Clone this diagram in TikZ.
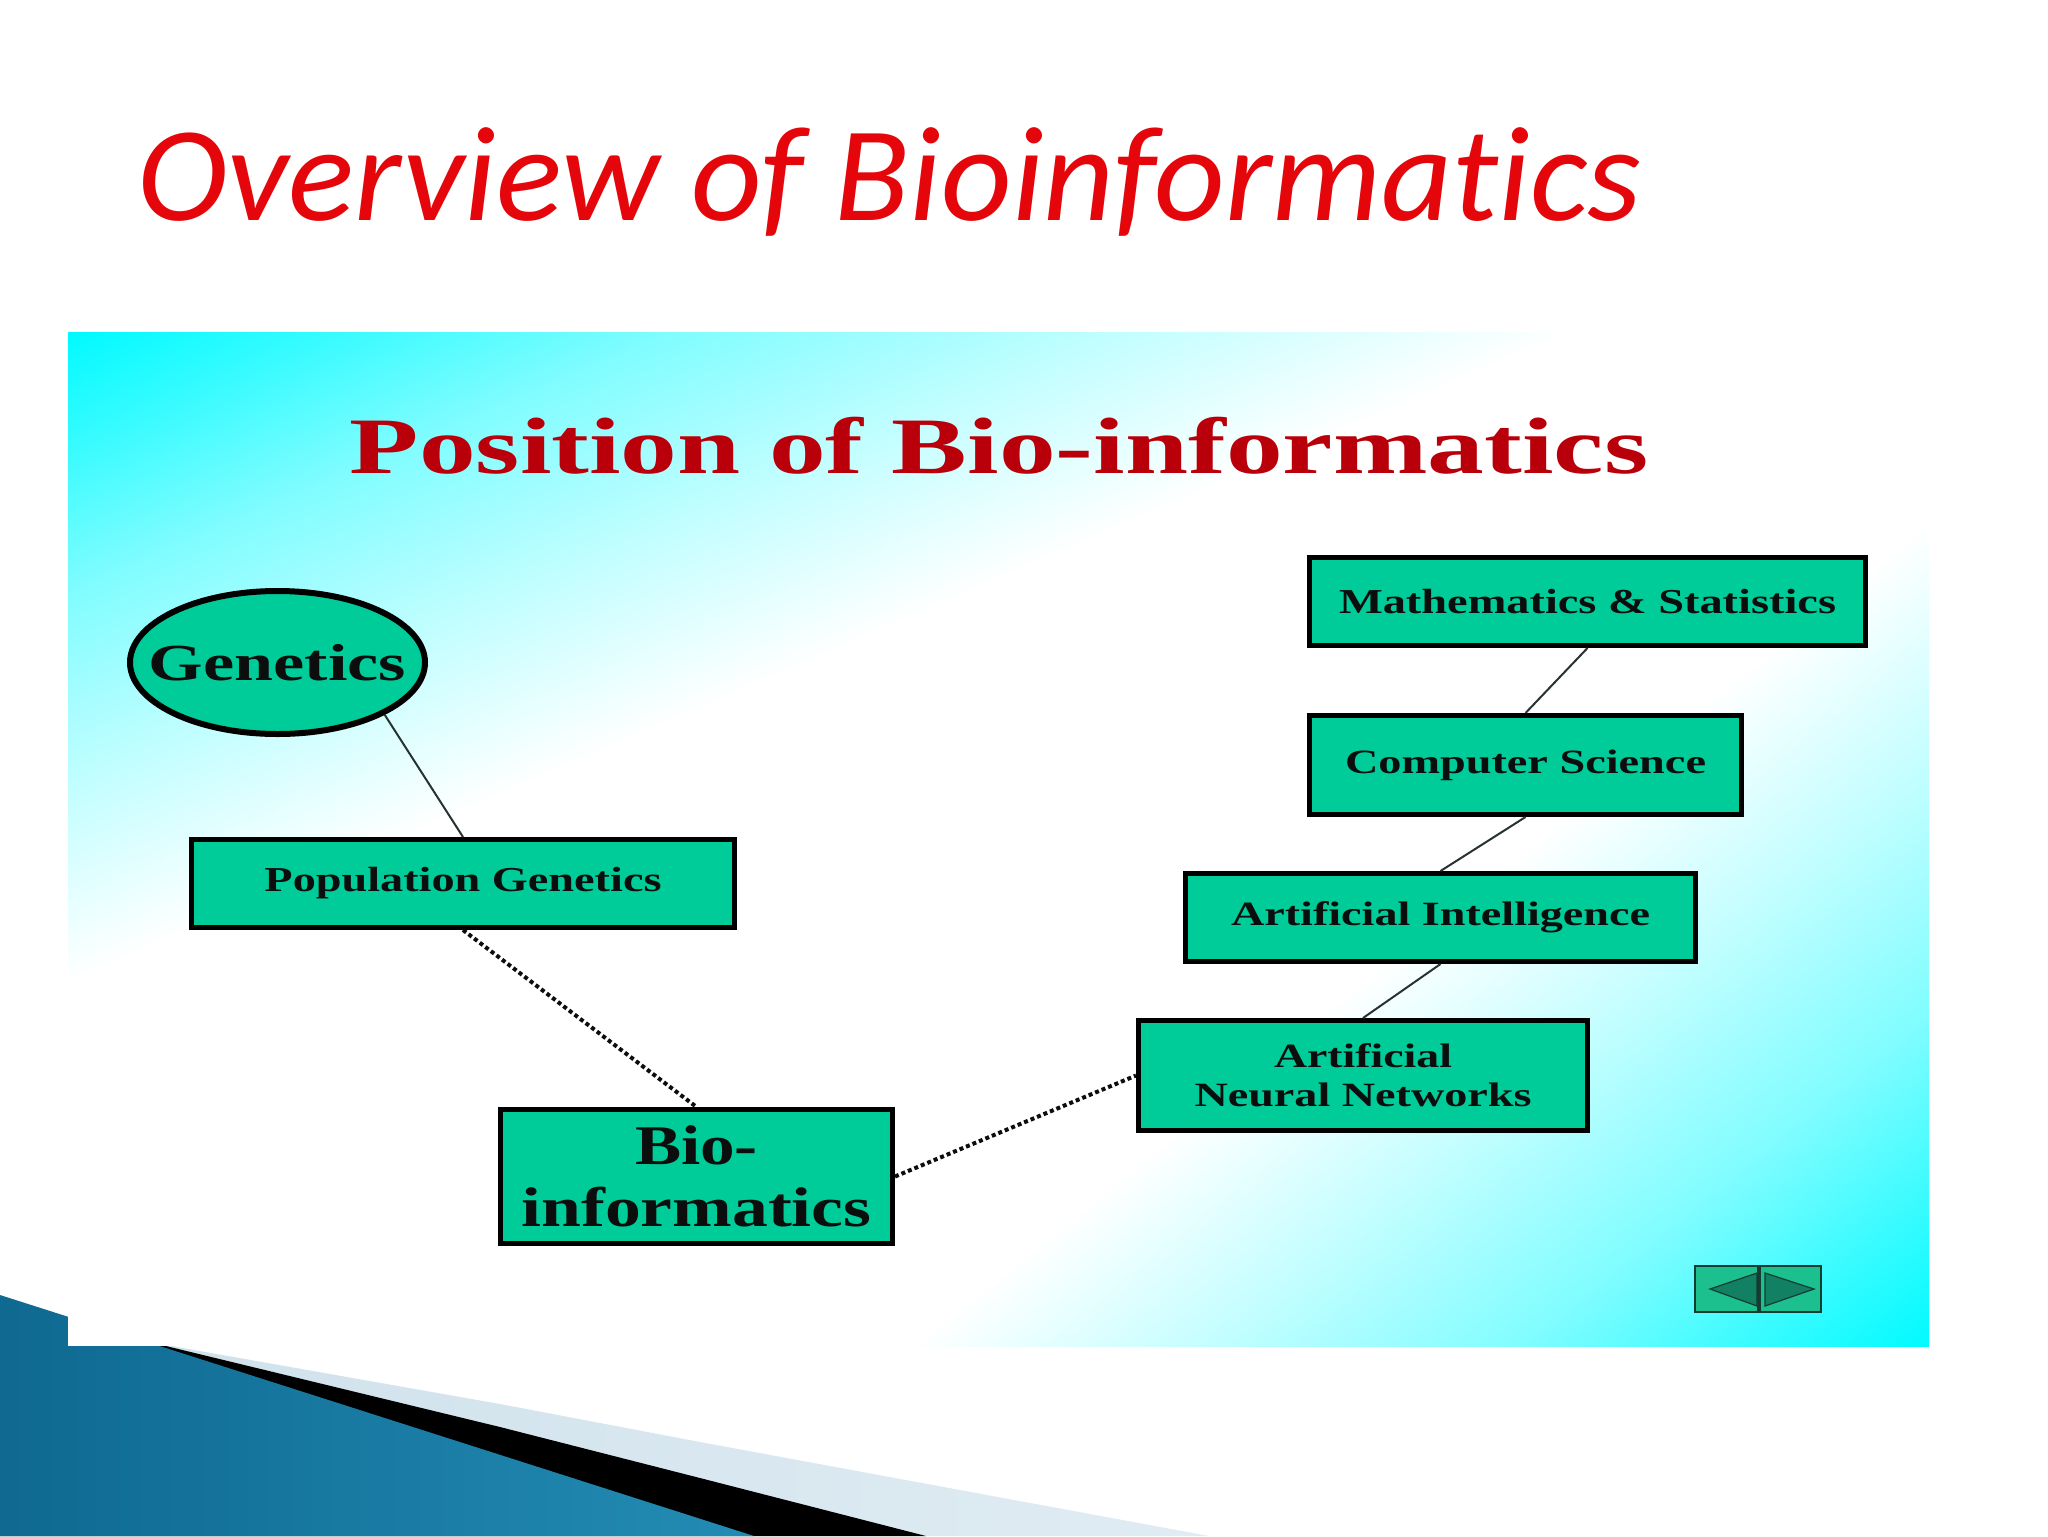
\documentclass[tikz,border=0pt]{standalone}
\usepackage{fontspec}
\usepackage{graphicx}
\setmainfont{Liberation Serif}
\newfontfamily\titlefont[Ligatures=NoCommon]{Carlito}
\usetikzlibrary{shapes.geometric}
\definecolor{tealbox}{RGB}{0,204,153}
\definecolor{txtdark}{RGB}{12,14,14}
\definecolor{cyanA}{RGB}{0,250,255}
\colorlet{cyanL}{cyanA!24!white}
\colorlet{cyanH}{cyanA!50!white}
\colorlet{cyanS}{cyanA!78!white}
\definecolor{titlered}{RGB}{228,6,10}
\definecolor{subred}{RGB}{185,0,10}
\definecolor{linkcol}{RGB}{40,50,50}
\definecolor{navfill}{RGB}{28,192,142}
\definecolor{navtri}{RGB}{18,128,98}
\definecolor{navline}{RGB}{20,60,50}
\definecolor{blueA}{RGB}{15,105,145}
\definecolor{blueB}{RGB}{78,176,212}
\definecolor{blueC}{RGB}{35,140,180}
\definecolor{lightA}{RGB}{205,224,235}
\definecolor{lightB}{RGB}{224,236,243}
\newcommand\fw[2]{\resizebox{#1}{\height}{#2}}
% bottom (25bp) = boundary line, top (75bp) = corner
\pgfdeclareverticalshading{ulshade}{100bp}{color(0bp)=(white); color(25bp)=(white); color(40bp)=(cyanL); color(55bp)=(cyanH); color(66bp)=(cyanS); color(75bp)=(cyanA); color(100bp)=(cyanA)}
% top (75bp) = boundary line, bottom (25bp) = corner
\pgfdeclareverticalshading{lrshade}{100bp}{color(0bp)=(cyanA); color(25bp)=(cyanA); color(34bp)=(cyanS); color(45bp)=(cyanH); color(60bp)=(cyanL); color(75bp)=(white); color(100bp)=(white)}
\begin{document}
\begin{tikzpicture}[x=0.5pt,y=-0.5pt,
  box/.style={draw=black, line width=2.5pt, fill=tealbox, inner sep=0pt, text=txtdark,
    font=\bfseries\fontsize{17.5}{21}\selectfont},
  genbox/.style={ellipse, draw=black, line width=3pt, fill=tealbox, inner sep=0pt, text=txtdark,
    font=\bfseries\fontsize{26}{30}\selectfont},
  solidlink/.style={draw=linkcol, line width=1pt},
  dotlink/.style={draw=txtdark, line width=2pt, dash pattern=on 2pt off 1.5pt}]
\useasboundingbox (0,0) rectangle (2048,1536);
\fill[white] (0,0) rectangle (2048,1536);
% bottom swoosh
\shade[left color=lightA, right color=lightB] (68,1320) -- (177,1347) -- (500,1404) -- (700,1442) -- (1209,1536) -- (0,1536) -- cycle;
\fill[black] (68,1320) -- (170,1347) -- (500,1427) -- (700,1478) -- (926,1536) -- (0,1536) -- cycle;
\shade[left color=blueA, middle color=blueB, right color=blueC] (0,1295) -- (754,1536) -- (0,1536) -- cycle;
% slide panel
\fill[white] (68,332) rectangle (1929,1346);
\begin{scope}
  \clip (68,332) rectangle (1929,1346);
  \begin{scope}[transform canvas={rotate around={23.4:(68,983)}}]
    \shade[shading=ulshade] (-1932,385) rectangle (3068,983);
  \end{scope}
  \begin{scope}[transform canvas={rotate around={39:(910,1346)}}]
    \shade[shading=lrshade] (-1090,1346) rectangle (3910,1988);
  \end{scope}
\end{scope}
% titles
\node[anchor=base west, inner sep=0pt, text=titlered, font=\titlefont\itshape\fontsize{67.5}{80}\selectfont] (title) at (137,220) {\fw{752pt}{Overview of Bioinformatics}};
\node[anchor=base, inner sep=0pt, text=subred, font=\bfseries\fontsize{40}{48}\selectfont] (sub) at (999,473) {\fw{649pt}{Position of Bio-informatics}};
% nodes
\node[genbox, minimum width=147.5pt, minimum height=71.5pt] (gen) at (277.5,662.5) {\makebox[0pt]{\fw{128.5pt}{Genetics}}};
\node[box, minimum width=271.5pt, minimum height=44pt] (popgen) at (463,883.5) {\fw{198.5pt}{Population Genetics}};
\node[box, align=center, minimum width=196pt, minimum height=67pt, font=\bfseries\fontsize{28}{31}\selectfont] (bio) at (696.5,1176.5) {\fw{61.5pt}{Bio-}\\\fw{175pt}{informatics}};
\node[box, minimum width=278pt, minimum height=44pt] (math) at (1587.5,601.5) {\fw{248.5pt}{Mathematics \& Statistics}};
\node[box, minimum width=216pt, minimum height=49.5pt, font=\bfseries\fontsize{17}{21}\selectfont] (cs) at (1525.5,765) {\fw{180.5pt}{Computer Science}};
\node[box, minimum width=255pt, minimum height=44pt, font=\bfseries\fontsize{17}{21}\selectfont] (ai) at (1440.5,917.5) {\fw{209.5pt}{Artificial Intelligence}};
\node[box, align=center, minimum width=224.5pt, minimum height=55pt, font=\bfseries\fontsize{17}{19.5}\selectfont] (ann) at (1363,1075.5) {\fw{89pt}{Artificial}\\\fw{168.5pt}{Neural Networks}};
% connectors
\draw[solidlink] (gen.-26) -- (popgen.north);
\draw[dotlink] (popgen.south) -- (bio.north);
\draw[dotlink] (bio.east) -- (ann.west);
\draw[solidlink] (ann.north) -- (ai.south);
\draw[solidlink] (ai.north) -- (cs.south);
\draw[solidlink] (cs.north) -- (math.south);
% navigation button
\draw[draw=navline, line width=1pt, fill=navfill] (1695,1266) rectangle (1821,1312);
\fill[navtri, draw=navline, line width=0.6pt] (1710,1289) -- (1757,1273) -- (1757,1306) -- cycle;
\fill[navtri, draw=navline, line width=0.6pt] (1765,1273) -- (1814,1289) -- (1765,1306) -- cycle;
\draw[navline, line width=1.6pt] (1759,1266) -- (1759,1312);
\end{tikzpicture}
\end{document}
